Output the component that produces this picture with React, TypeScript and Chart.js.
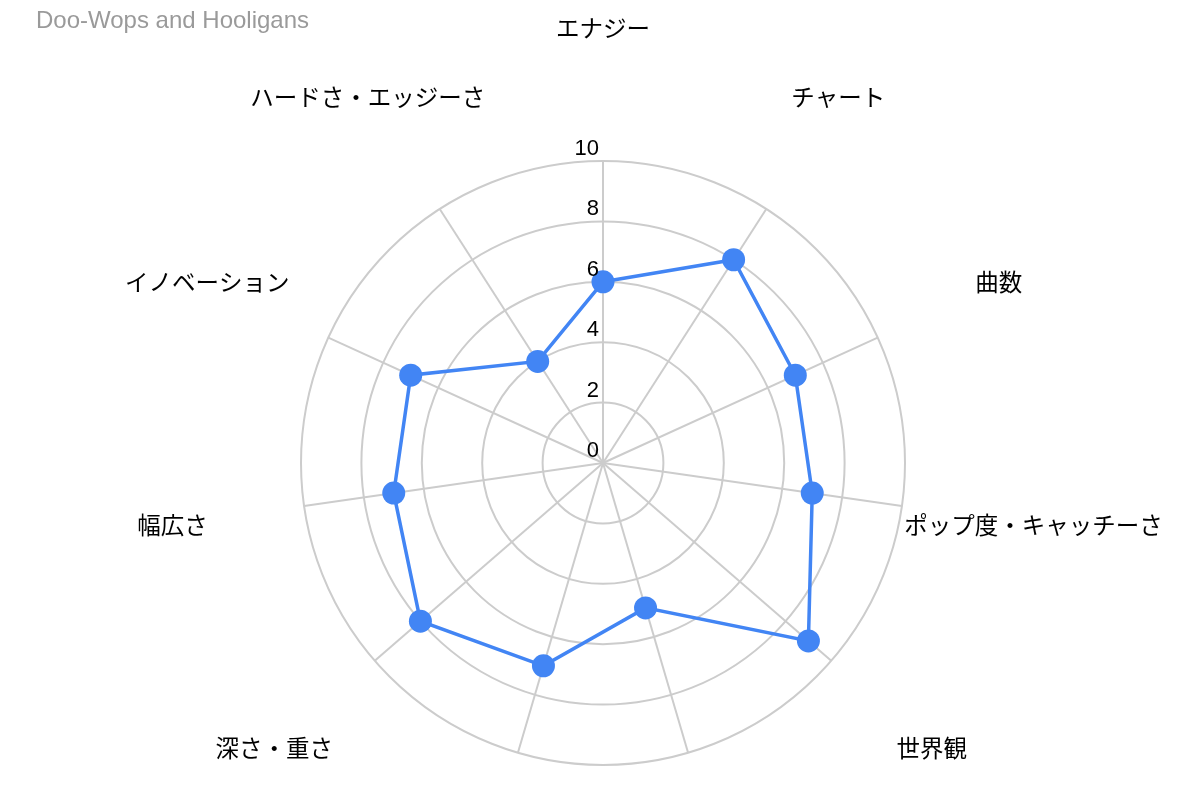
import Chart from "chart.js/auto";
import type { Chart as ChartJS, Plugin } from "chart.js";
import { useEffect, useRef } from "react";

// カテゴリ（下の2つは画面外にはみ出している）
const categories = [
  "エナジー",
  "チャート",
  "曲数",
  "ポップ度・キャッチーさ",
  "世界観",
  "メロディ",
  "ボーカル",
  "深さ・重さ",
  "幅広さ",
  "イノベーション",
  "ハードさ・エッジーさ",
];

const scores = [6, 8, 7, 7, 9, 5, 7, 8, 7, 7, 4];

const tickValues = [0, 2, 4, 6, 8, 10];

const title = "Doo-Wops and Hooligans";

const BLUE = "#4285f4";
const GRID = "#cccccc";

// タイトル・目盛り・項目名を自前で描く
const labelsPlugin: Plugin<"radar"> = {
  id: "radarLabels",
  afterDraw(chart) {
    const ctx = chart.ctx;
    const scale: any = chart.scales.r;
    ctx.save();

    ctx.fillStyle = "#9a9a9a";
    ctx.font = "24px 'Liberation Sans', Arial, sans-serif";
    ctx.textAlign = "left";
    ctx.textBaseline = "alphabetic";
    ctx.fillText(title, 36, 28);

    ctx.fillStyle = "#000";
    ctx.font = "22px 'Liberation Sans', Arial, sans-serif";
    ctx.textAlign = "right";
    ctx.textBaseline = "middle";
    tickValues.forEach((v) => {
      const d = scale.getDistanceFromCenterForValue(v);
      ctx.fillText(String(v), scale.xCenter - 4, scale.yCenter - d - 12);
    });

    ctx.font = "23.5px 'Noto Sans CJK JP', sans-serif";
    ctx.textAlign = "center";
    categories.forEach((label, i) => {
      const p = scale.getPointPosition(i, scale.drawingArea + 133);
      ctx.fillText(label, p.x, p.y);
    });

    ctx.restore();
  },
};

export default function App() {
  const canvasRef = useRef<HTMLCanvasElement>(null);
  const chartRef = useRef<ChartJS<"radar"> | null>(null);

  useEffect(() => {
    if (!canvasRef.current) return;
    chartRef.current?.destroy();

    chartRef.current = new Chart(canvasRef.current, {
      type: "radar",
      data: {
        labels: categories,
        datasets: [
          {
            label: title,
            data: scores,
            borderColor: BLUE,
            backgroundColor: BLUE,
            borderWidth: 3.5,
            pointRadius: 11.5,
            pointBorderWidth: 0,
            pointBackgroundColor: BLUE,
            fill: false,
            tension: 0,
          },
        ],
      },
      options: {
        animation: false,
        responsive: true,
        maintainAspectRatio: false,
        layout: { padding: { left: 301, right: 297, top: 161, bottom: 39 } },
        plugins: {
          legend: { display: false },
          tooltip: { enabled: false },
        },
        scales: {
          r: {
            min: 0,
            max: 10,
            ticks: { stepSize: 2, display: false },
            pointLabels: { display: false },
            grid: { color: GRID, lineWidth: 2, circular: true },
            angleLines: { color: GRID, lineWidth: 2 },
          },
        },
      },
      plugins: [labelsPlugin],
    });

    return () => {
      chartRef.current?.destroy();
      chartRef.current = null;
    };
  }, []);

  return (
    <div
      style={{
        position: "fixed",
        left: 0,
        top: 0,
        width: 1202,
        height: 804,
        background: "#fff",
      }}
    >
      <canvas ref={canvasRef}></canvas>
    </div>
  );
}
